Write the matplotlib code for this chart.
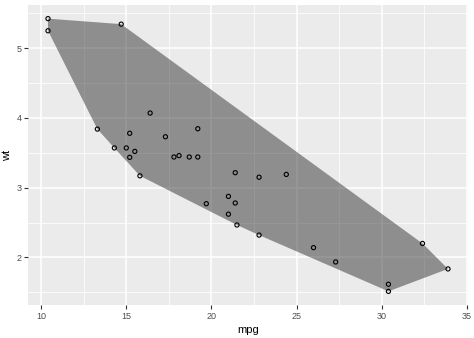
import numpy as np
import matplotlib
matplotlib.use("Agg")
import matplotlib.pyplot as plt
from matplotlib.patches import Polygon

plt.rcParams["font.family"] = ["Liberation Sans", "DejaVu Sans"]

mpg = [21.0, 21.0, 22.8, 21.4, 18.7, 18.1, 14.3, 24.4, 22.8, 19.2, 17.8,
       16.4, 17.3, 15.2, 10.4, 10.4, 14.7, 32.4, 30.4, 33.9, 21.5, 15.5,
       15.2, 13.3, 19.2, 27.3, 26.0, 30.4, 15.8, 19.7, 15.0, 21.4]
wt = [2.620, 2.875, 2.320, 3.215, 3.440, 3.460, 3.570, 3.190, 3.150, 3.440,
      3.440, 4.070, 3.730, 3.780, 5.250, 5.424, 5.345, 2.200, 1.615, 1.835,
      2.465, 3.520, 3.435, 3.840, 3.845, 1.935, 2.140, 1.513, 3.170, 2.770,
      3.570, 2.780]


def convex_hull(xs, ys):
    pts = sorted(set(zip(xs, ys)))

    def cross(o, a, b):
        return (a[0] - o[0]) * (b[1] - o[1]) - (a[1] - o[1]) * (b[0] - o[0])

    lower = []
    for p in pts:
        while len(lower) >= 2 and cross(lower[-2], lower[-1], p) <= 0:
            lower.pop()
        lower.append(p)
    upper = []
    for p in reversed(pts):
        while len(upper) >= 2 and cross(upper[-2], upper[-1], p) <= 0:
            upper.pop()
        upper.append(p)
    return lower[:-1] + upper[:-1]


hull = convex_hull(mpg, wt)

fig = plt.figure(figsize=(4.74, 3.38), dpi=100)
ax = fig.add_axes([28 / 474, 33 / 338, 440 / 474, 300 / 338])
ax.set_facecolor("#EBEBEB")

ax.add_patch(Polygon(hull, closed=True, facecolor="#333333", alpha=0.5,
                     edgecolor="none", zorder=2))
ax.scatter(mpg, wt, s=9, facecolors="none", edgecolors="black",
           linewidths=0.8, zorder=3)

xr = max(mpg) - min(mpg)
yr = max(wt) - min(wt)
ax.set_xlim(min(mpg) - 0.05 * xr, max(mpg) + 0.05 * xr)
ax.set_ylim(min(wt) - 0.05 * yr, max(wt) + 0.05 * yr)

ax.set_xticks([10, 15, 20, 25, 30, 35])
ax.set_yticks([2, 3, 4, 5])
ax.set_xticks([12.5, 17.5, 22.5, 27.5, 32.5], minor=True)
ax.set_yticks([1.5, 2.5, 3.5, 4.5, 5.5], minor=True)
ax.grid(which="major", color="white", linewidth=1.1, zorder=0)
ax.grid(which="minor", color="white", linewidth=0.55, zorder=0)
ax.set_axisbelow(True)

for s in ax.spines.values():
    s.set_visible(False)
ax.tick_params(which="major", length=2.75, width=0.8, color="#333333",
               labelcolor="#4D4D4D", labelsize=6.5, pad=2)
ax.tick_params(which="minor", length=0)

ax.set_xlabel("mpg", fontsize=8, labelpad=3)
ax.set_ylabel("wt", fontsize=8, labelpad=3)

fig.savefig("out.png", dpi=100, facecolor="white")
